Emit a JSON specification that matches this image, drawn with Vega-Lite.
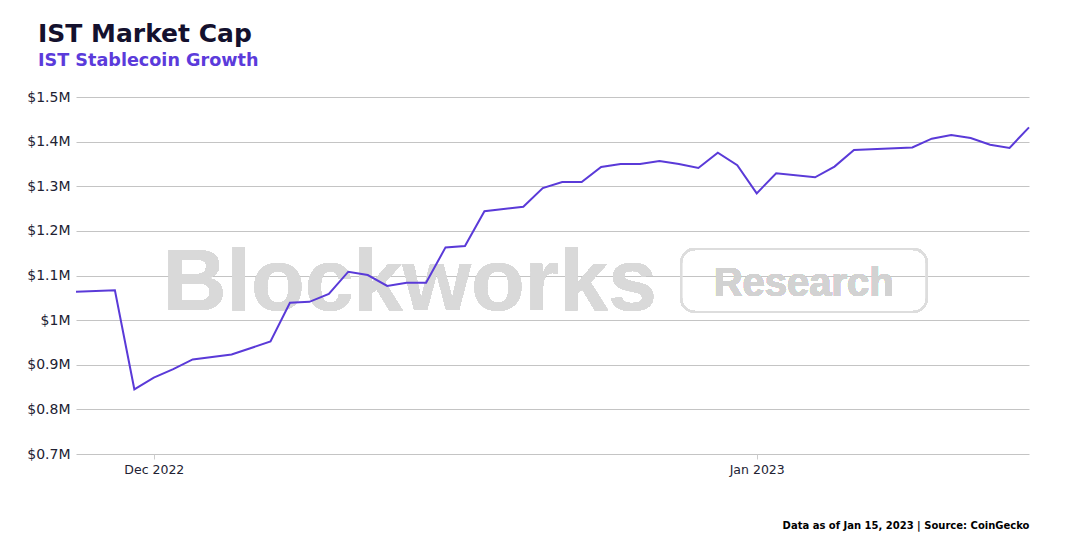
{
  "$schema": "https://vega.github.io/schema/vega-lite/v6.json",
  "width": 953,
  "height": 357,
  "autosize": {"type": "none"},
  "padding": {"left": 76, "top": 97, "right": 61, "bottom": 91},
  "background": "white",
  "config": {
    "view": {"stroke": null},
    "font": "DejaVu Sans"
  },
  "title": {
    "text": "IST Market Cap",
    "subtitle": "IST Stablecoin Growth",
    "anchor": "start",
    "frame": "group",
    "dx": -38,
    "offset": 20,
    "font": "DejaVu Sans",
    "fontSize": 25,
    "fontWeight": "bold",
    "color": "#14112e",
    "subtitleFont": "DejaVu Sans",
    "subtitleFontSize": 17.6,
    "subtitleFontWeight": "bold",
    "subtitleColor": "#5b3bdb",
    "subtitlePadding": 5
  },
  "data": {
    "values": [
      {"date": "2022-11-27", "cap": 1063700},
      {"date": "2022-11-29", "cap": 1066800},
      {"date": "2022-11-30", "cap": 845000},
      {"date": "2022-12-01", "cap": 871000},
      {"date": "2022-12-02", "cap": 890000},
      {"date": "2022-12-03", "cap": 912000},
      {"date": "2022-12-05", "cap": 923000},
      {"date": "2022-12-07", "cap": 952000},
      {"date": "2022-12-08", "cap": 1039000},
      {"date": "2022-12-09", "cap": 1041000},
      {"date": "2022-12-10", "cap": 1058500},
      {"date": "2022-12-11", "cap": 1108500},
      {"date": "2022-12-12", "cap": 1101000},
      {"date": "2022-12-13", "cap": 1076500},
      {"date": "2022-12-14", "cap": 1084000},
      {"date": "2022-12-15", "cap": 1084000},
      {"date": "2022-12-16", "cap": 1163000},
      {"date": "2022-12-17", "cap": 1166000},
      {"date": "2022-12-18", "cap": 1244000},
      {"date": "2022-12-20", "cap": 1254000},
      {"date": "2022-12-21", "cap": 1296000},
      {"date": "2022-12-22", "cap": 1309500},
      {"date": "2022-12-23", "cap": 1309500},
      {"date": "2022-12-24", "cap": 1343000},
      {"date": "2022-12-25", "cap": 1350000},
      {"date": "2022-12-26", "cap": 1350000},
      {"date": "2022-12-27", "cap": 1356600},
      {"date": "2022-12-28", "cap": 1350000},
      {"date": "2022-12-29", "cap": 1341000},
      {"date": "2022-12-30", "cap": 1375000},
      {"date": "2022-12-31", "cap": 1347000},
      {"date": "2023-01-01", "cap": 1284000},
      {"date": "2023-01-02", "cap": 1329000},
      {"date": "2023-01-04", "cap": 1320000},
      {"date": "2023-01-05", "cap": 1344000},
      {"date": "2023-01-06", "cap": 1381000},
      {"date": "2023-01-09", "cap": 1387000},
      {"date": "2023-01-10", "cap": 1406600},
      {"date": "2023-01-11", "cap": 1415000},
      {"date": "2023-01-12", "cap": 1408000},
      {"date": "2023-01-13", "cap": 1393000},
      {"date": "2023-01-14", "cap": 1386000},
      {"date": "2023-01-15", "cap": 1432000}
    ]
  },
  "encoding": {
    "x": {
      "field": "date",
      "type": "temporal",
      "scale": {
        "type": "utc",
        "domain": [
          {"year": 2022, "month": 11, "date": 27, "utc": true},
          {"year": 2023, "month": 1, "date": 15, "utc": true}
        ]
      },
      "axis": {
        "title": "Data as of Jan 15, 2023 | Source: CoinGecko",
        "titleAnchor": "end",
        "titleAlign": "right",
        "titleFontSize": 10,
        "titleFontWeight": "bold",
        "titleColor": "#000000",
        "titlePadding": 45,
        "values": [
          {"year": 2022, "month": 12, "date": 1, "utc": true},
          {"year": 2023, "month": 1, "date": 1, "utc": true}
        ],
        "format": "%b %Y",
        "grid": false,
        "domain": false,
        "tickColor": "#cccccc",
        "tickSize": 5,
        "labelPadding": 4,
        "labelFontSize": 12.5,
        "labelColor": "#222233"
      }
    },
    "y": {
      "field": "cap",
      "type": "quantitative",
      "scale": {"domain": [700000, 1500000], "zero": false, "nice": false},
      "axis": {
        "title": null,
        "values": [700000, 800000, 900000, 1000000, 1100000, 1200000, 1300000, 1400000, 1500000],
        "labelExpr": "'$' + format(datum.value / 1000000, '~g') + 'M'",
        "domain": false,
        "ticks": false,
        "labelPadding": 6,
        "labelFontSize": 14,
        "labelColor": "#222233",
        "gridColor": "#c4c4c4",
        "gridWidth": 1
      }
    }
  },
  "layer": [
    {
      "mark": {"type": "rect", "fill": null, "stroke": "#dddddd", "strokeWidth": 2, "cornerRadius": 14},
      "encoding": {
        "x": {"datum": {"year": 2022, "month": 12, "date": 28, "hours": 2, "minutes": 38, "utc": true}, "type": "temporal"},
        "x2": {"datum": {"year": 2023, "month": 1, "date": 9, "hours": 18, "utc": true}},
        "y": {"datum": 1159400, "type": "quantitative"},
        "y2": {"datum": 1018200}
      }
    },
    {
      "mark": {"type": "text", "text": "Blockworks", "font": "Liberation Sans", "fontWeight": "bold", "fontSize": 88, "color": "#d9d9d9", "align": "center", "baseline": "alphabetic"},
      "encoding": {
        "x": {"datum": {"year": 2022, "month": 12, "date": 14, "hours": 4, "utc": true}, "type": "temporal"},
        "y": {"datum": 1022700, "type": "quantitative"}
      }
    },
    {
      "mark": {"type": "text", "text": "Research", "font": "Liberation Sans", "fontWeight": "bold", "fontSize": 40, "color": "#d2d2d2", "align": "center", "baseline": "alphabetic"},
      "encoding": {
        "x": {"datum": {"year": 2023, "month": 1, "date": 3, "hours": 10, "utc": true}, "type": "temporal"},
        "y": {"datum": 1054000, "type": "quantitative"}
      }
    },
    {
      "mark": {"type": "line", "color": "#5a3ad8", "strokeWidth": 2, "interpolate": "linear"}
    }
  ]
}
